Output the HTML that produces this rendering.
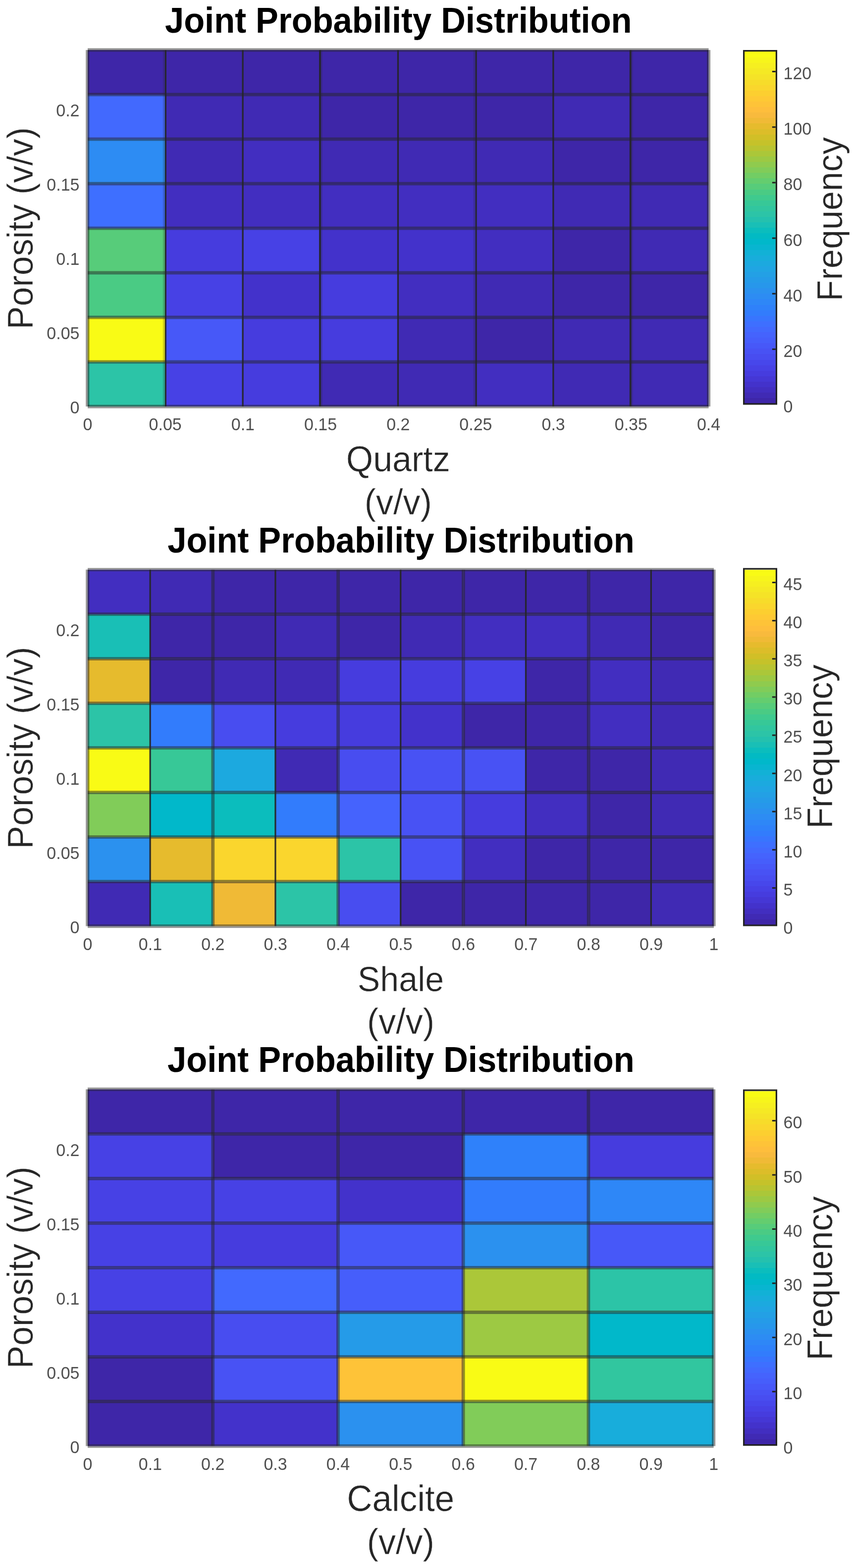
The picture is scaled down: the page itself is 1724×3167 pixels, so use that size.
<!DOCTYPE html>
<html><head><meta charset="utf-8"><title>Joint Probability Distribution</title>
<style>html,body{margin:0;padding:0;background:#fff;}svg{display:block;}</style></head>
<body>
<svg width="1724" height="3167" viewBox="0 0 1724 3167">
<rect width="1724" height="3167" fill="#fff"/>
<rect x="177.00" y="731.00" width="156.99" height="90.30" fill="#2cc4a7"/>
<rect x="333.69" y="731.00" width="156.99" height="90.30" fill="#4741e5"/>
<rect x="490.38" y="731.00" width="156.99" height="90.30" fill="#463cde"/>
<rect x="647.06" y="731.00" width="156.99" height="90.30" fill="#402ab4"/>
<rect x="803.75" y="731.00" width="156.99" height="90.30" fill="#402ab4"/>
<rect x="960.44" y="731.00" width="156.99" height="90.30" fill="#422ec0"/>
<rect x="1117.12" y="731.00" width="156.99" height="90.30" fill="#402ab4"/>
<rect x="1273.81" y="731.00" width="156.99" height="90.30" fill="#402ab4"/>
<rect x="177.00" y="641.00" width="156.99" height="90.30" fill="#f9fb15"/>
<rect x="333.69" y="641.00" width="156.99" height="90.30" fill="#4758f8"/>
<rect x="490.38" y="641.00" width="156.99" height="90.30" fill="#463cde"/>
<rect x="647.06" y="641.00" width="156.99" height="90.30" fill="#463cde"/>
<rect x="803.75" y="641.00" width="156.99" height="90.30" fill="#402ab4"/>
<rect x="960.44" y="641.00" width="156.99" height="90.30" fill="#3e26a8"/>
<rect x="1117.12" y="641.00" width="156.99" height="90.30" fill="#402ab4"/>
<rect x="1273.81" y="641.00" width="156.99" height="90.30" fill="#402ab4"/>
<rect x="177.00" y="551.00" width="156.99" height="90.30" fill="#4acb84"/>
<rect x="333.69" y="551.00" width="156.99" height="90.30" fill="#4741e5"/>
<rect x="490.38" y="551.00" width="156.99" height="90.30" fill="#4332cb"/>
<rect x="647.06" y="551.00" width="156.99" height="90.30" fill="#463cde"/>
<rect x="803.75" y="551.00" width="156.99" height="90.30" fill="#422ec0"/>
<rect x="960.44" y="551.00" width="156.99" height="90.30" fill="#402ab4"/>
<rect x="1117.12" y="551.00" width="156.99" height="90.30" fill="#3e26a8"/>
<rect x="1273.81" y="551.00" width="156.99" height="90.30" fill="#3e26a8"/>
<rect x="177.00" y="461.00" width="156.99" height="90.30" fill="#57cc7a"/>
<rect x="333.69" y="461.00" width="156.99" height="90.30" fill="#463cde"/>
<rect x="490.38" y="461.00" width="156.99" height="90.30" fill="#4741e5"/>
<rect x="647.06" y="461.00" width="156.99" height="90.30" fill="#4332cb"/>
<rect x="803.75" y="461.00" width="156.99" height="90.30" fill="#4332cb"/>
<rect x="960.44" y="461.00" width="156.99" height="90.30" fill="#422ec0"/>
<rect x="1117.12" y="461.00" width="156.99" height="90.30" fill="#3e26a8"/>
<rect x="1273.81" y="461.00" width="156.99" height="90.30" fill="#402ab4"/>
<rect x="177.00" y="371.00" width="156.99" height="90.30" fill="#3e6fff"/>
<rect x="333.69" y="371.00" width="156.99" height="90.30" fill="#422ec0"/>
<rect x="490.38" y="371.00" width="156.99" height="90.30" fill="#422ec0"/>
<rect x="647.06" y="371.00" width="156.99" height="90.30" fill="#422ec0"/>
<rect x="803.75" y="371.00" width="156.99" height="90.30" fill="#422ec0"/>
<rect x="960.44" y="371.00" width="156.99" height="90.30" fill="#422ec0"/>
<rect x="1117.12" y="371.00" width="156.99" height="90.30" fill="#402ab4"/>
<rect x="1273.81" y="371.00" width="156.99" height="90.30" fill="#402ab4"/>
<rect x="177.00" y="281.00" width="156.99" height="90.30" fill="#2d8cf3"/>
<rect x="333.69" y="281.00" width="156.99" height="90.30" fill="#402ab4"/>
<rect x="490.38" y="281.00" width="156.99" height="90.30" fill="#422ec0"/>
<rect x="647.06" y="281.00" width="156.99" height="90.30" fill="#402ab4"/>
<rect x="803.75" y="281.00" width="156.99" height="90.30" fill="#402ab4"/>
<rect x="960.44" y="281.00" width="156.99" height="90.30" fill="#402ab4"/>
<rect x="1117.12" y="281.00" width="156.99" height="90.30" fill="#3e26a8"/>
<rect x="1273.81" y="281.00" width="156.99" height="90.30" fill="#3e26a8"/>
<rect x="177.00" y="191.00" width="156.99" height="90.30" fill="#4269fe"/>
<rect x="333.69" y="191.00" width="156.99" height="90.30" fill="#402ab4"/>
<rect x="490.38" y="191.00" width="156.99" height="90.30" fill="#402ab4"/>
<rect x="647.06" y="191.00" width="156.99" height="90.30" fill="#3e26a8"/>
<rect x="803.75" y="191.00" width="156.99" height="90.30" fill="#3e26a8"/>
<rect x="960.44" y="191.00" width="156.99" height="90.30" fill="#3e26a8"/>
<rect x="1117.12" y="191.00" width="156.99" height="90.30" fill="#402ab4"/>
<rect x="1273.81" y="191.00" width="156.99" height="90.30" fill="#3e26a8"/>
<rect x="177.00" y="101.00" width="156.99" height="90.30" fill="#3e26a8"/>
<rect x="333.69" y="101.00" width="156.99" height="90.30" fill="#3e26a8"/>
<rect x="490.38" y="101.00" width="156.99" height="90.30" fill="#3e26a8"/>
<rect x="647.06" y="101.00" width="156.99" height="90.30" fill="#3e26a8"/>
<rect x="803.75" y="101.00" width="156.99" height="90.30" fill="#3e26a8"/>
<rect x="960.44" y="101.00" width="156.99" height="90.30" fill="#3e26a8"/>
<rect x="1117.12" y="101.00" width="156.99" height="90.30" fill="#3e26a8"/>
<rect x="1273.81" y="101.00" width="156.99" height="90.30" fill="#3e26a8"/>
<rect x="177.00" y="817.60" width="1253.50" height="3.40" fill="rgba(38,38,38,0.5)"/>
<rect x="177.00" y="727.60" width="1253.50" height="6.80" fill="rgba(38,38,38,0.5)"/>
<rect x="177.00" y="637.60" width="1253.50" height="6.80" fill="rgba(38,38,38,0.5)"/>
<rect x="177.00" y="547.60" width="1253.50" height="6.80" fill="rgba(38,38,38,0.5)"/>
<rect x="177.00" y="457.60" width="1253.50" height="6.80" fill="rgba(38,38,38,0.5)"/>
<rect x="177.00" y="367.60" width="1253.50" height="6.80" fill="rgba(38,38,38,0.5)"/>
<rect x="177.00" y="277.60" width="1253.50" height="6.80" fill="rgba(38,38,38,0.5)"/>
<rect x="177.00" y="187.60" width="1253.50" height="6.80" fill="rgba(38,38,38,0.5)"/>
<rect x="177.00" y="101.00" width="1253.50" height="3.40" fill="rgba(38,38,38,0.5)"/>
<rect x="177.00" y="101.00" width="3.4" height="720.00" fill="rgba(38,38,38,0.5)"/>
<rect x="328.79" y="101.00" width="4.0" height="720.00" fill="rgba(38,38,38,0.2)"/>
<rect x="332.79" y="101.00" width="3.2" height="720.00" fill="rgba(38,38,40,0.93)"/>
<rect x="488.48" y="101.00" width="3.3" height="720.00" fill="rgba(38,38,40,0.93)"/>
<rect x="644.06" y="101.00" width="3.9" height="720.00" fill="rgba(38,38,40,0.93)"/>
<rect x="647.96" y="101.00" width="3.0" height="720.00" fill="rgba(38,38,38,0.2)"/>
<rect x="801.85" y="101.00" width="3.3" height="720.00" fill="rgba(38,38,40,0.93)"/>
<rect x="955.54" y="101.00" width="4.0" height="720.00" fill="rgba(38,38,38,0.2)"/>
<rect x="959.54" y="101.00" width="3.2" height="720.00" fill="rgba(38,38,40,0.93)"/>
<rect x="1115.22" y="101.00" width="3.3" height="720.00" fill="rgba(38,38,40,0.93)"/>
<rect x="1270.81" y="101.00" width="3.9" height="720.00" fill="rgba(38,38,40,0.93)"/>
<rect x="1274.71" y="101.00" width="3.0" height="720.00" fill="rgba(38,38,38,0.2)"/>
<rect x="1427.10" y="101.00" width="3.4" height="720.00" fill="rgba(38,38,38,0.5)"/>
<rect x="177.00" y="97.40" width="1253.50" height="3.60" fill="#949494"/>
<rect x="173.20" y="101.00" width="3.8" height="720.00" fill="#949494"/>
<rect x="1430.50" y="101.00" width="3.6" height="720.00" fill="#949494"/>
<rect x="177.00" y="821.00" width="1253.50" height="3.6" fill="#949494"/>
<text transform="translate(804.25 65.90) scale(1 1.04)" font-family="'Liberation Sans', Arial, Helvetica, sans-serif" font-size="68.7" font-weight="bold" text-anchor="middle" fill="#000">Joint Probability Distribution</text>
<text transform="translate(177.00 869.30) scale(1 1.04)" font-family="'Liberation Sans', Arial, Helvetica, sans-serif" font-size="34" text-anchor="middle" fill="#505050">0</text>
<text transform="translate(333.69 869.30) scale(1 1.04)" font-family="'Liberation Sans', Arial, Helvetica, sans-serif" font-size="34" text-anchor="middle" fill="#505050">0.05</text>
<text transform="translate(490.38 869.30) scale(1 1.04)" font-family="'Liberation Sans', Arial, Helvetica, sans-serif" font-size="34" text-anchor="middle" fill="#505050">0.1</text>
<text transform="translate(647.06 869.30) scale(1 1.04)" font-family="'Liberation Sans', Arial, Helvetica, sans-serif" font-size="34" text-anchor="middle" fill="#505050">0.15</text>
<text transform="translate(803.75 869.30) scale(1 1.04)" font-family="'Liberation Sans', Arial, Helvetica, sans-serif" font-size="34" text-anchor="middle" fill="#505050">0.2</text>
<text transform="translate(960.44 869.30) scale(1 1.04)" font-family="'Liberation Sans', Arial, Helvetica, sans-serif" font-size="34" text-anchor="middle" fill="#505050">0.25</text>
<text transform="translate(1117.12 869.30) scale(1 1.04)" font-family="'Liberation Sans', Arial, Helvetica, sans-serif" font-size="34" text-anchor="middle" fill="#505050">0.3</text>
<text transform="translate(1273.81 869.30) scale(1 1.04)" font-family="'Liberation Sans', Arial, Helvetica, sans-serif" font-size="34" text-anchor="middle" fill="#505050">0.35</text>
<text transform="translate(1430.50 869.30) scale(1 1.04)" font-family="'Liberation Sans', Arial, Helvetica, sans-serif" font-size="34" text-anchor="middle" fill="#505050">0.4</text>
<text transform="translate(160.50 835.30) scale(1 1.04)" font-family="'Liberation Sans', Arial, Helvetica, sans-serif" font-size="34" text-anchor="end" fill="#505050">0</text>
<text transform="translate(160.50 685.30) scale(1 1.04)" font-family="'Liberation Sans', Arial, Helvetica, sans-serif" font-size="34" text-anchor="end" fill="#505050">0.05</text>
<text transform="translate(160.50 535.30) scale(1 1.04)" font-family="'Liberation Sans', Arial, Helvetica, sans-serif" font-size="34" text-anchor="end" fill="#505050">0.1</text>
<text transform="translate(160.50 385.30) scale(1 1.04)" font-family="'Liberation Sans', Arial, Helvetica, sans-serif" font-size="34" text-anchor="end" fill="#505050">0.15</text>
<text transform="translate(160.50 235.30) scale(1 1.04)" font-family="'Liberation Sans', Arial, Helvetica, sans-serif" font-size="34" text-anchor="end" fill="#505050">0.2</text>
<text transform="translate(803.75 952.40) scale(1 1.035)" font-family="'Liberation Sans', Arial, Helvetica, sans-serif" font-size="70" text-anchor="middle" fill="#262626" stroke="#fff" stroke-width="0.5">Quartz</text>
<text transform="translate(803.75 1038.80) scale(1 1.035)" font-family="'Liberation Sans', Arial, Helvetica, sans-serif" font-size="70" text-anchor="middle" fill="#262626" stroke="#fff" stroke-width="0.5">(v/v)</text>
<text transform="translate(65.80 461.00) rotate(-90) scale(1 1.035)" font-family="'Liberation Sans', Arial, Helvetica, sans-serif" font-size="70" text-anchor="middle" fill="#262626" stroke="#fff" stroke-width="0.5">Porosity (v/v)</text>
<rect x="1503.20" y="803.20" width="62.60" height="12.10" fill="#3e26a8" shape-rendering="crispEdges"/>
<rect x="1503.20" y="792.11" width="62.60" height="12.10" fill="#402ab4" shape-rendering="crispEdges"/>
<rect x="1503.20" y="781.01" width="62.60" height="12.10" fill="#422ec0" shape-rendering="crispEdges"/>
<rect x="1503.20" y="769.92" width="62.60" height="12.10" fill="#4332cb" shape-rendering="crispEdges"/>
<rect x="1503.20" y="758.82" width="62.60" height="12.10" fill="#4537d5" shape-rendering="crispEdges"/>
<rect x="1503.20" y="747.73" width="62.60" height="12.10" fill="#463cde" shape-rendering="crispEdges"/>
<rect x="1503.20" y="736.63" width="62.60" height="12.10" fill="#4741e5" shape-rendering="crispEdges"/>
<rect x="1503.20" y="725.54" width="62.60" height="12.10" fill="#4747eb" shape-rendering="crispEdges"/>
<rect x="1503.20" y="714.44" width="62.60" height="12.10" fill="#484df0" shape-rendering="crispEdges"/>
<rect x="1503.20" y="703.35" width="62.60" height="12.10" fill="#4852f4" shape-rendering="crispEdges"/>
<rect x="1503.20" y="692.25" width="62.60" height="12.10" fill="#4758f8" shape-rendering="crispEdges"/>
<rect x="1503.20" y="681.16" width="62.60" height="12.10" fill="#465efb" shape-rendering="crispEdges"/>
<rect x="1503.20" y="670.06" width="62.60" height="12.10" fill="#4563fd" shape-rendering="crispEdges"/>
<rect x="1503.20" y="658.97" width="62.60" height="12.10" fill="#4269fe" shape-rendering="crispEdges"/>
<rect x="1503.20" y="647.87" width="62.60" height="12.10" fill="#3e6fff" shape-rendering="crispEdges"/>
<rect x="1503.20" y="636.77" width="62.60" height="12.10" fill="#3875fe" shape-rendering="crispEdges"/>
<rect x="1503.20" y="625.68" width="62.60" height="12.10" fill="#327cfc" shape-rendering="crispEdges"/>
<rect x="1503.20" y="614.58" width="62.60" height="12.10" fill="#2f81fa" shape-rendering="crispEdges"/>
<rect x="1503.20" y="603.49" width="62.60" height="12.10" fill="#2e87f7" shape-rendering="crispEdges"/>
<rect x="1503.20" y="592.39" width="62.60" height="12.10" fill="#2d8cf3" shape-rendering="crispEdges"/>
<rect x="1503.20" y="581.30" width="62.60" height="12.10" fill="#2b91ef" shape-rendering="crispEdges"/>
<rect x="1503.20" y="570.20" width="62.60" height="12.10" fill="#2797eb" shape-rendering="crispEdges"/>
<rect x="1503.20" y="559.11" width="62.60" height="12.10" fill="#259be8" shape-rendering="crispEdges"/>
<rect x="1503.20" y="548.01" width="62.60" height="12.10" fill="#23a0e5" shape-rendering="crispEdges"/>
<rect x="1503.20" y="536.92" width="62.60" height="12.10" fill="#20a5e3" shape-rendering="crispEdges"/>
<rect x="1503.20" y="525.82" width="62.60" height="12.10" fill="#1ca9df" shape-rendering="crispEdges"/>
<rect x="1503.20" y="514.73" width="62.60" height="12.10" fill="#18addb" shape-rendering="crispEdges"/>
<rect x="1503.20" y="503.63" width="62.60" height="12.10" fill="#12b1d6" shape-rendering="crispEdges"/>
<rect x="1503.20" y="492.54" width="62.60" height="12.10" fill="#08b5d0" shape-rendering="crispEdges"/>
<rect x="1503.20" y="481.44" width="62.60" height="12.10" fill="#01b8ca" shape-rendering="crispEdges"/>
<rect x="1503.20" y="470.35" width="62.60" height="12.10" fill="#02bac3" shape-rendering="crispEdges"/>
<rect x="1503.20" y="459.25" width="62.60" height="12.10" fill="#0bbdbd" shape-rendering="crispEdges"/>
<rect x="1503.20" y="448.15" width="62.60" height="12.10" fill="#19bfb6" shape-rendering="crispEdges"/>
<rect x="1503.20" y="437.06" width="62.60" height="12.10" fill="#24c1ae" shape-rendering="crispEdges"/>
<rect x="1503.20" y="425.96" width="62.60" height="12.10" fill="#2cc4a7" shape-rendering="crispEdges"/>
<rect x="1503.20" y="414.87" width="62.60" height="12.10" fill="#31c69f" shape-rendering="crispEdges"/>
<rect x="1503.20" y="403.77" width="62.60" height="12.10" fill="#37c897" shape-rendering="crispEdges"/>
<rect x="1503.20" y="392.68" width="62.60" height="12.10" fill="#3fca8e" shape-rendering="crispEdges"/>
<rect x="1503.20" y="381.58" width="62.60" height="12.10" fill="#4acb84" shape-rendering="crispEdges"/>
<rect x="1503.20" y="370.49" width="62.60" height="12.10" fill="#57cc7a" shape-rendering="crispEdges"/>
<rect x="1503.20" y="359.39" width="62.60" height="12.10" fill="#64cd6f" shape-rendering="crispEdges"/>
<rect x="1503.20" y="348.30" width="62.60" height="12.10" fill="#72cd64" shape-rendering="crispEdges"/>
<rect x="1503.20" y="337.20" width="62.60" height="12.10" fill="#81cc59" shape-rendering="crispEdges"/>
<rect x="1503.20" y="326.11" width="62.60" height="12.10" fill="#8fcb4e" shape-rendering="crispEdges"/>
<rect x="1503.20" y="315.01" width="62.60" height="12.10" fill="#9dc943" shape-rendering="crispEdges"/>
<rect x="1503.20" y="303.92" width="62.60" height="12.10" fill="#abc739" shape-rendering="crispEdges"/>
<rect x="1503.20" y="292.82" width="62.60" height="12.10" fill="#b9c431" shape-rendering="crispEdges"/>
<rect x="1503.20" y="281.73" width="62.60" height="12.10" fill="#c5c22a" shape-rendering="crispEdges"/>
<rect x="1503.20" y="270.63" width="62.60" height="12.10" fill="#d1bf27" shape-rendering="crispEdges"/>
<rect x="1503.20" y="259.53" width="62.60" height="12.10" fill="#dcbd29" shape-rendering="crispEdges"/>
<rect x="1503.20" y="248.44" width="62.60" height="12.10" fill="#e6bb2d" shape-rendering="crispEdges"/>
<rect x="1503.20" y="237.34" width="62.60" height="12.10" fill="#f0ba36" shape-rendering="crispEdges"/>
<rect x="1503.20" y="226.25" width="62.60" height="12.10" fill="#f8ba3d" shape-rendering="crispEdges"/>
<rect x="1503.20" y="215.15" width="62.60" height="12.10" fill="#febe3c" shape-rendering="crispEdges"/>
<rect x="1503.20" y="204.06" width="62.60" height="12.10" fill="#fec338" shape-rendering="crispEdges"/>
<rect x="1503.20" y="192.96" width="62.60" height="12.10" fill="#fec934" shape-rendering="crispEdges"/>
<rect x="1503.20" y="181.87" width="62.60" height="12.10" fill="#fccf30" shape-rendering="crispEdges"/>
<rect x="1503.20" y="170.77" width="62.60" height="12.10" fill="#fad62d" shape-rendering="crispEdges"/>
<rect x="1503.20" y="159.68" width="62.60" height="12.10" fill="#f7dc2a" shape-rendering="crispEdges"/>
<rect x="1503.20" y="148.58" width="62.60" height="12.10" fill="#f5e327" shape-rendering="crispEdges"/>
<rect x="1503.20" y="137.49" width="62.60" height="12.10" fill="#f5e924" shape-rendering="crispEdges"/>
<rect x="1503.20" y="126.39" width="62.60" height="12.10" fill="#f6ef20" shape-rendering="crispEdges"/>
<rect x="1503.20" y="115.30" width="62.60" height="12.10" fill="#f7f51b" shape-rendering="crispEdges"/>
<rect x="1503.20" y="104.20" width="62.60" height="12.10" fill="#f9fb15" shape-rendering="crispEdges"/>
<rect x="1501.60" y="102.60" width="65.80" height="713.30" fill="none" stroke="#222" stroke-width="3.2"/>
<text transform="translate(1581.50 833.00) scale(1 1.04)" font-family="'Liberation Sans', Arial, Helvetica, sans-serif" font-size="34" fill="#505050">0</text>
<rect x="1558.80" y="703.84" width="7" height="3" fill="#222"/>
<text transform="translate(1581.50 720.84) scale(1 1.04)" font-family="'Liberation Sans', Arial, Helvetica, sans-serif" font-size="34" fill="#505050">20</text>
<rect x="1558.80" y="591.68" width="7" height="3" fill="#222"/>
<text transform="translate(1581.50 608.68) scale(1 1.04)" font-family="'Liberation Sans', Arial, Helvetica, sans-serif" font-size="34" fill="#505050">40</text>
<rect x="1558.80" y="479.52" width="7" height="3" fill="#222"/>
<text transform="translate(1581.50 496.52) scale(1 1.04)" font-family="'Liberation Sans', Arial, Helvetica, sans-serif" font-size="34" fill="#505050">60</text>
<rect x="1558.80" y="367.36" width="7" height="3" fill="#222"/>
<text transform="translate(1581.50 384.36) scale(1 1.04)" font-family="'Liberation Sans', Arial, Helvetica, sans-serif" font-size="34" fill="#505050">80</text>
<rect x="1558.80" y="255.20" width="7" height="3" fill="#222"/>
<text transform="translate(1581.50 272.20) scale(1 1.04)" font-family="'Liberation Sans', Arial, Helvetica, sans-serif" font-size="34" fill="#505050">100</text>
<rect x="1558.80" y="143.04" width="7" height="3" fill="#222"/>
<text transform="translate(1581.50 160.04) scale(1 1.04)" font-family="'Liberation Sans', Arial, Helvetica, sans-serif" font-size="34" fill="#505050">120</text>
<text transform="translate(1700.40 442.60) rotate(-90) scale(1 1.035)" font-family="'Liberation Sans', Arial, Helvetica, sans-serif" font-size="70.2" text-anchor="middle" fill="#262626" stroke="#fff" stroke-width="0.5">Frequency</text>
<rect x="177.00" y="1780.59" width="126.70" height="90.31" fill="#402ab4"/>
<rect x="303.40" y="1780.59" width="126.70" height="90.31" fill="#19bfb6"/>
<rect x="429.80" y="1780.59" width="126.70" height="90.31" fill="#f0ba36"/>
<rect x="556.20" y="1780.59" width="126.70" height="90.31" fill="#2cc4a7"/>
<rect x="682.60" y="1780.59" width="126.70" height="90.31" fill="#484df0"/>
<rect x="809.00" y="1780.59" width="126.70" height="90.31" fill="#3e26a8"/>
<rect x="935.40" y="1780.59" width="126.70" height="90.31" fill="#3e26a8"/>
<rect x="1061.80" y="1780.59" width="126.70" height="90.31" fill="#3e26a8"/>
<rect x="1188.20" y="1780.59" width="126.70" height="90.31" fill="#3e26a8"/>
<rect x="1314.60" y="1780.59" width="126.70" height="90.31" fill="#402ab4"/>
<rect x="177.00" y="1690.57" width="126.70" height="90.31" fill="#2b91ef"/>
<rect x="303.40" y="1690.57" width="126.70" height="90.31" fill="#e6bb2d"/>
<rect x="429.80" y="1690.57" width="126.70" height="90.31" fill="#fad62d"/>
<rect x="556.20" y="1690.57" width="126.70" height="90.31" fill="#fad62d"/>
<rect x="682.60" y="1690.57" width="126.70" height="90.31" fill="#2cc4a7"/>
<rect x="809.00" y="1690.57" width="126.70" height="90.31" fill="#4852f4"/>
<rect x="935.40" y="1690.57" width="126.70" height="90.31" fill="#422ec0"/>
<rect x="1061.80" y="1690.57" width="126.70" height="90.31" fill="#3e26a8"/>
<rect x="1188.20" y="1690.57" width="126.70" height="90.31" fill="#3e26a8"/>
<rect x="1314.60" y="1690.57" width="126.70" height="90.31" fill="#3e26a8"/>
<rect x="177.00" y="1600.56" width="126.70" height="90.31" fill="#81cc59"/>
<rect x="303.40" y="1600.56" width="126.70" height="90.31" fill="#01b8ca"/>
<rect x="429.80" y="1600.56" width="126.70" height="90.31" fill="#0bbdbd"/>
<rect x="556.20" y="1600.56" width="126.70" height="90.31" fill="#327cfc"/>
<rect x="682.60" y="1600.56" width="126.70" height="90.31" fill="#4563fd"/>
<rect x="809.00" y="1600.56" width="126.70" height="90.31" fill="#4852f4"/>
<rect x="935.40" y="1600.56" width="126.70" height="90.31" fill="#463cde"/>
<rect x="1061.80" y="1600.56" width="126.70" height="90.31" fill="#422ec0"/>
<rect x="1188.20" y="1600.56" width="126.70" height="90.31" fill="#3e26a8"/>
<rect x="1314.60" y="1600.56" width="126.70" height="90.31" fill="#402ab4"/>
<rect x="177.00" y="1510.55" width="126.70" height="90.31" fill="#f9fb15"/>
<rect x="303.40" y="1510.55" width="126.70" height="90.31" fill="#37c897"/>
<rect x="429.80" y="1510.55" width="126.70" height="90.31" fill="#1ca9df"/>
<rect x="556.20" y="1510.55" width="126.70" height="90.31" fill="#402ab4"/>
<rect x="682.60" y="1510.55" width="126.70" height="90.31" fill="#484df0"/>
<rect x="809.00" y="1510.55" width="126.70" height="90.31" fill="#4852f4"/>
<rect x="935.40" y="1510.55" width="126.70" height="90.31" fill="#4852f4"/>
<rect x="1061.80" y="1510.55" width="126.70" height="90.31" fill="#3e26a8"/>
<rect x="1188.20" y="1510.55" width="126.70" height="90.31" fill="#3e26a8"/>
<rect x="1314.60" y="1510.55" width="126.70" height="90.31" fill="#402ab4"/>
<rect x="177.00" y="1420.54" width="126.70" height="90.31" fill="#2cc4a7"/>
<rect x="303.40" y="1420.54" width="126.70" height="90.31" fill="#327cfc"/>
<rect x="429.80" y="1420.54" width="126.70" height="90.31" fill="#484df0"/>
<rect x="556.20" y="1420.54" width="126.70" height="90.31" fill="#463cde"/>
<rect x="682.60" y="1420.54" width="126.70" height="90.31" fill="#463cde"/>
<rect x="809.00" y="1420.54" width="126.70" height="90.31" fill="#4332cb"/>
<rect x="935.40" y="1420.54" width="126.70" height="90.31" fill="#3e26a8"/>
<rect x="1061.80" y="1420.54" width="126.70" height="90.31" fill="#3e26a8"/>
<rect x="1188.20" y="1420.54" width="126.70" height="90.31" fill="#422ec0"/>
<rect x="1314.60" y="1420.54" width="126.70" height="90.31" fill="#402ab4"/>
<rect x="177.00" y="1330.53" width="126.70" height="90.31" fill="#e6bb2d"/>
<rect x="303.40" y="1330.53" width="126.70" height="90.31" fill="#3e26a8"/>
<rect x="429.80" y="1330.53" width="126.70" height="90.31" fill="#402ab4"/>
<rect x="556.20" y="1330.53" width="126.70" height="90.31" fill="#402ab4"/>
<rect x="682.60" y="1330.53" width="126.70" height="90.31" fill="#463cde"/>
<rect x="809.00" y="1330.53" width="126.70" height="90.31" fill="#463cde"/>
<rect x="935.40" y="1330.53" width="126.70" height="90.31" fill="#4741e5"/>
<rect x="1061.80" y="1330.53" width="126.70" height="90.31" fill="#3e26a8"/>
<rect x="1188.20" y="1330.53" width="126.70" height="90.31" fill="#422ec0"/>
<rect x="1314.60" y="1330.53" width="126.70" height="90.31" fill="#402ab4"/>
<rect x="177.00" y="1240.51" width="126.70" height="90.31" fill="#19bfb6"/>
<rect x="303.40" y="1240.51" width="126.70" height="90.31" fill="#3e26a8"/>
<rect x="429.80" y="1240.51" width="126.70" height="90.31" fill="#3e26a8"/>
<rect x="556.20" y="1240.51" width="126.70" height="90.31" fill="#402ab4"/>
<rect x="682.60" y="1240.51" width="126.70" height="90.31" fill="#3e26a8"/>
<rect x="809.00" y="1240.51" width="126.70" height="90.31" fill="#402ab4"/>
<rect x="935.40" y="1240.51" width="126.70" height="90.31" fill="#422ec0"/>
<rect x="1061.80" y="1240.51" width="126.70" height="90.31" fill="#422ec0"/>
<rect x="1188.20" y="1240.51" width="126.70" height="90.31" fill="#402ab4"/>
<rect x="1314.60" y="1240.51" width="126.70" height="90.31" fill="#3e26a8"/>
<rect x="177.00" y="1150.50" width="126.70" height="90.31" fill="#422ec0"/>
<rect x="303.40" y="1150.50" width="126.70" height="90.31" fill="#402ab4"/>
<rect x="429.80" y="1150.50" width="126.70" height="90.31" fill="#3e26a8"/>
<rect x="556.20" y="1150.50" width="126.70" height="90.31" fill="#3e26a8"/>
<rect x="682.60" y="1150.50" width="126.70" height="90.31" fill="#3e26a8"/>
<rect x="809.00" y="1150.50" width="126.70" height="90.31" fill="#3e26a8"/>
<rect x="935.40" y="1150.50" width="126.70" height="90.31" fill="#3e26a8"/>
<rect x="1061.80" y="1150.50" width="126.70" height="90.31" fill="#3e26a8"/>
<rect x="1188.20" y="1150.50" width="126.70" height="90.31" fill="#3e26a8"/>
<rect x="1314.60" y="1150.50" width="126.70" height="90.31" fill="#3e26a8"/>
<rect x="177.00" y="1867.20" width="1264.00" height="3.40" fill="rgba(38,38,38,0.5)"/>
<rect x="177.00" y="1777.19" width="1264.00" height="6.80" fill="rgba(38,38,38,0.5)"/>
<rect x="177.00" y="1687.17" width="1264.00" height="6.80" fill="rgba(38,38,38,0.5)"/>
<rect x="177.00" y="1597.16" width="1264.00" height="6.80" fill="rgba(38,38,38,0.5)"/>
<rect x="177.00" y="1507.15" width="1264.00" height="6.80" fill="rgba(38,38,38,0.5)"/>
<rect x="177.00" y="1417.14" width="1264.00" height="6.80" fill="rgba(38,38,38,0.5)"/>
<rect x="177.00" y="1327.12" width="1264.00" height="6.80" fill="rgba(38,38,38,0.5)"/>
<rect x="177.00" y="1237.11" width="1264.00" height="6.80" fill="rgba(38,38,38,0.5)"/>
<rect x="177.00" y="1150.50" width="1264.00" height="3.40" fill="rgba(38,38,38,0.5)"/>
<rect x="177.00" y="1150.50" width="3.4" height="720.10" fill="rgba(38,38,38,0.5)"/>
<rect x="301.50" y="1150.50" width="3.3" height="720.10" fill="rgba(38,38,40,0.93)"/>
<rect x="426.40" y="1150.50" width="6.8" height="720.10" fill="rgba(38,38,38,0.5)"/>
<rect x="554.30" y="1150.50" width="3.3" height="720.10" fill="rgba(38,38,40,0.93)"/>
<rect x="679.20" y="1150.50" width="6.8" height="720.10" fill="rgba(38,38,38,0.5)"/>
<rect x="807.10" y="1150.50" width="3.3" height="720.10" fill="rgba(38,38,40,0.93)"/>
<rect x="932.00" y="1150.50" width="6.8" height="720.10" fill="rgba(38,38,38,0.5)"/>
<rect x="1059.90" y="1150.50" width="3.3" height="720.10" fill="rgba(38,38,40,0.93)"/>
<rect x="1184.80" y="1150.50" width="6.8" height="720.10" fill="rgba(38,38,38,0.5)"/>
<rect x="1312.70" y="1150.50" width="3.3" height="720.10" fill="rgba(38,38,40,0.93)"/>
<rect x="1437.60" y="1150.50" width="3.4" height="720.10" fill="rgba(38,38,38,0.5)"/>
<rect x="177.00" y="1147.20" width="1264.00" height="3.30" fill="#949494"/>
<rect x="173.20" y="1150.50" width="3.8" height="720.10" fill="#949494"/>
<rect x="1441.00" y="1150.50" width="3.6" height="720.10" fill="#949494"/>
<rect x="177.00" y="1870.60" width="1264.00" height="3.6" fill="#949494"/>
<text transform="translate(809.50 1115.60) scale(1 1.04)" font-family="'Liberation Sans', Arial, Helvetica, sans-serif" font-size="68.7" font-weight="bold" text-anchor="middle" fill="#000">Joint Probability Distribution</text>
<text transform="translate(177.00 1918.90) scale(1 1.04)" font-family="'Liberation Sans', Arial, Helvetica, sans-serif" font-size="34" text-anchor="middle" fill="#505050">0</text>
<text transform="translate(303.40 1918.90) scale(1 1.04)" font-family="'Liberation Sans', Arial, Helvetica, sans-serif" font-size="34" text-anchor="middle" fill="#505050">0.1</text>
<text transform="translate(429.80 1918.90) scale(1 1.04)" font-family="'Liberation Sans', Arial, Helvetica, sans-serif" font-size="34" text-anchor="middle" fill="#505050">0.2</text>
<text transform="translate(556.20 1918.90) scale(1 1.04)" font-family="'Liberation Sans', Arial, Helvetica, sans-serif" font-size="34" text-anchor="middle" fill="#505050">0.3</text>
<text transform="translate(682.60 1918.90) scale(1 1.04)" font-family="'Liberation Sans', Arial, Helvetica, sans-serif" font-size="34" text-anchor="middle" fill="#505050">0.4</text>
<text transform="translate(809.00 1918.90) scale(1 1.04)" font-family="'Liberation Sans', Arial, Helvetica, sans-serif" font-size="34" text-anchor="middle" fill="#505050">0.5</text>
<text transform="translate(935.40 1918.90) scale(1 1.04)" font-family="'Liberation Sans', Arial, Helvetica, sans-serif" font-size="34" text-anchor="middle" fill="#505050">0.6</text>
<text transform="translate(1061.80 1918.90) scale(1 1.04)" font-family="'Liberation Sans', Arial, Helvetica, sans-serif" font-size="34" text-anchor="middle" fill="#505050">0.7</text>
<text transform="translate(1188.20 1918.90) scale(1 1.04)" font-family="'Liberation Sans', Arial, Helvetica, sans-serif" font-size="34" text-anchor="middle" fill="#505050">0.8</text>
<text transform="translate(1314.60 1918.90) scale(1 1.04)" font-family="'Liberation Sans', Arial, Helvetica, sans-serif" font-size="34" text-anchor="middle" fill="#505050">0.9</text>
<text transform="translate(1441.00 1918.90) scale(1 1.04)" font-family="'Liberation Sans', Arial, Helvetica, sans-serif" font-size="34" text-anchor="middle" fill="#505050">1</text>
<text transform="translate(160.50 1884.90) scale(1 1.04)" font-family="'Liberation Sans', Arial, Helvetica, sans-serif" font-size="34" text-anchor="end" fill="#505050">0</text>
<text transform="translate(160.50 1734.88) scale(1 1.04)" font-family="'Liberation Sans', Arial, Helvetica, sans-serif" font-size="34" text-anchor="end" fill="#505050">0.05</text>
<text transform="translate(160.50 1584.86) scale(1 1.04)" font-family="'Liberation Sans', Arial, Helvetica, sans-serif" font-size="34" text-anchor="end" fill="#505050">0.1</text>
<text transform="translate(160.50 1434.84) scale(1 1.04)" font-family="'Liberation Sans', Arial, Helvetica, sans-serif" font-size="34" text-anchor="end" fill="#505050">0.15</text>
<text transform="translate(160.50 1284.82) scale(1 1.04)" font-family="'Liberation Sans', Arial, Helvetica, sans-serif" font-size="34" text-anchor="end" fill="#505050">0.2</text>
<text transform="translate(809.00 2002.00) scale(1 1.035)" font-family="'Liberation Sans', Arial, Helvetica, sans-serif" font-size="68.2" text-anchor="middle" fill="#262626" stroke="#fff" stroke-width="0.5">Shale</text>
<text transform="translate(809.00 2088.40) scale(1 1.035)" font-family="'Liberation Sans', Arial, Helvetica, sans-serif" font-size="70" text-anchor="middle" fill="#262626" stroke="#fff" stroke-width="0.5">(v/v)</text>
<text transform="translate(65.80 1510.55) rotate(-90) scale(1 1.035)" font-family="'Liberation Sans', Arial, Helvetica, sans-serif" font-size="70" text-anchor="middle" fill="#262626" stroke="#fff" stroke-width="0.5">Porosity (v/v)</text>
<rect x="1503.20" y="1856.20" width="62.60" height="12.20" fill="#3e26a8" shape-rendering="crispEdges"/>
<rect x="1503.20" y="1845.00" width="62.60" height="12.20" fill="#402ab4" shape-rendering="crispEdges"/>
<rect x="1503.20" y="1833.80" width="62.60" height="12.20" fill="#422ec0" shape-rendering="crispEdges"/>
<rect x="1503.20" y="1822.59" width="62.60" height="12.20" fill="#4332cb" shape-rendering="crispEdges"/>
<rect x="1503.20" y="1811.39" width="62.60" height="12.20" fill="#4537d5" shape-rendering="crispEdges"/>
<rect x="1503.20" y="1800.19" width="62.60" height="12.20" fill="#463cde" shape-rendering="crispEdges"/>
<rect x="1503.20" y="1788.99" width="62.60" height="12.20" fill="#4741e5" shape-rendering="crispEdges"/>
<rect x="1503.20" y="1777.79" width="62.60" height="12.20" fill="#4747eb" shape-rendering="crispEdges"/>
<rect x="1503.20" y="1766.59" width="62.60" height="12.20" fill="#484df0" shape-rendering="crispEdges"/>
<rect x="1503.20" y="1755.38" width="62.60" height="12.20" fill="#4852f4" shape-rendering="crispEdges"/>
<rect x="1503.20" y="1744.18" width="62.60" height="12.20" fill="#4758f8" shape-rendering="crispEdges"/>
<rect x="1503.20" y="1732.98" width="62.60" height="12.20" fill="#465efb" shape-rendering="crispEdges"/>
<rect x="1503.20" y="1721.78" width="62.60" height="12.20" fill="#4563fd" shape-rendering="crispEdges"/>
<rect x="1503.20" y="1710.58" width="62.60" height="12.20" fill="#4269fe" shape-rendering="crispEdges"/>
<rect x="1503.20" y="1699.38" width="62.60" height="12.20" fill="#3e6fff" shape-rendering="crispEdges"/>
<rect x="1503.20" y="1688.17" width="62.60" height="12.20" fill="#3875fe" shape-rendering="crispEdges"/>
<rect x="1503.20" y="1676.97" width="62.60" height="12.20" fill="#327cfc" shape-rendering="crispEdges"/>
<rect x="1503.20" y="1665.77" width="62.60" height="12.20" fill="#2f81fa" shape-rendering="crispEdges"/>
<rect x="1503.20" y="1654.57" width="62.60" height="12.20" fill="#2e87f7" shape-rendering="crispEdges"/>
<rect x="1503.20" y="1643.37" width="62.60" height="12.20" fill="#2d8cf3" shape-rendering="crispEdges"/>
<rect x="1503.20" y="1632.17" width="62.60" height="12.20" fill="#2b91ef" shape-rendering="crispEdges"/>
<rect x="1503.20" y="1620.97" width="62.60" height="12.20" fill="#2797eb" shape-rendering="crispEdges"/>
<rect x="1503.20" y="1609.76" width="62.60" height="12.20" fill="#259be8" shape-rendering="crispEdges"/>
<rect x="1503.20" y="1598.56" width="62.60" height="12.20" fill="#23a0e5" shape-rendering="crispEdges"/>
<rect x="1503.20" y="1587.36" width="62.60" height="12.20" fill="#20a5e3" shape-rendering="crispEdges"/>
<rect x="1503.20" y="1576.16" width="62.60" height="12.20" fill="#1ca9df" shape-rendering="crispEdges"/>
<rect x="1503.20" y="1564.96" width="62.60" height="12.20" fill="#18addb" shape-rendering="crispEdges"/>
<rect x="1503.20" y="1553.76" width="62.60" height="12.20" fill="#12b1d6" shape-rendering="crispEdges"/>
<rect x="1503.20" y="1542.55" width="62.60" height="12.20" fill="#08b5d0" shape-rendering="crispEdges"/>
<rect x="1503.20" y="1531.35" width="62.60" height="12.20" fill="#01b8ca" shape-rendering="crispEdges"/>
<rect x="1503.20" y="1520.15" width="62.60" height="12.20" fill="#02bac3" shape-rendering="crispEdges"/>
<rect x="1503.20" y="1508.95" width="62.60" height="12.20" fill="#0bbdbd" shape-rendering="crispEdges"/>
<rect x="1503.20" y="1497.75" width="62.60" height="12.20" fill="#19bfb6" shape-rendering="crispEdges"/>
<rect x="1503.20" y="1486.55" width="62.60" height="12.20" fill="#24c1ae" shape-rendering="crispEdges"/>
<rect x="1503.20" y="1475.35" width="62.60" height="12.20" fill="#2cc4a7" shape-rendering="crispEdges"/>
<rect x="1503.20" y="1464.14" width="62.60" height="12.20" fill="#31c69f" shape-rendering="crispEdges"/>
<rect x="1503.20" y="1452.94" width="62.60" height="12.20" fill="#37c897" shape-rendering="crispEdges"/>
<rect x="1503.20" y="1441.74" width="62.60" height="12.20" fill="#3fca8e" shape-rendering="crispEdges"/>
<rect x="1503.20" y="1430.54" width="62.60" height="12.20" fill="#4acb84" shape-rendering="crispEdges"/>
<rect x="1503.20" y="1419.34" width="62.60" height="12.20" fill="#57cc7a" shape-rendering="crispEdges"/>
<rect x="1503.20" y="1408.14" width="62.60" height="12.20" fill="#64cd6f" shape-rendering="crispEdges"/>
<rect x="1503.20" y="1396.93" width="62.60" height="12.20" fill="#72cd64" shape-rendering="crispEdges"/>
<rect x="1503.20" y="1385.73" width="62.60" height="12.20" fill="#81cc59" shape-rendering="crispEdges"/>
<rect x="1503.20" y="1374.53" width="62.60" height="12.20" fill="#8fcb4e" shape-rendering="crispEdges"/>
<rect x="1503.20" y="1363.33" width="62.60" height="12.20" fill="#9dc943" shape-rendering="crispEdges"/>
<rect x="1503.20" y="1352.13" width="62.60" height="12.20" fill="#abc739" shape-rendering="crispEdges"/>
<rect x="1503.20" y="1340.93" width="62.60" height="12.20" fill="#b9c431" shape-rendering="crispEdges"/>
<rect x="1503.20" y="1329.72" width="62.60" height="12.20" fill="#c5c22a" shape-rendering="crispEdges"/>
<rect x="1503.20" y="1318.52" width="62.60" height="12.20" fill="#d1bf27" shape-rendering="crispEdges"/>
<rect x="1503.20" y="1307.32" width="62.60" height="12.20" fill="#dcbd29" shape-rendering="crispEdges"/>
<rect x="1503.20" y="1296.12" width="62.60" height="12.20" fill="#e6bb2d" shape-rendering="crispEdges"/>
<rect x="1503.20" y="1284.92" width="62.60" height="12.20" fill="#f0ba36" shape-rendering="crispEdges"/>
<rect x="1503.20" y="1273.72" width="62.60" height="12.20" fill="#f8ba3d" shape-rendering="crispEdges"/>
<rect x="1503.20" y="1262.52" width="62.60" height="12.20" fill="#febe3c" shape-rendering="crispEdges"/>
<rect x="1503.20" y="1251.31" width="62.60" height="12.20" fill="#fec338" shape-rendering="crispEdges"/>
<rect x="1503.20" y="1240.11" width="62.60" height="12.20" fill="#fec934" shape-rendering="crispEdges"/>
<rect x="1503.20" y="1228.91" width="62.60" height="12.20" fill="#fccf30" shape-rendering="crispEdges"/>
<rect x="1503.20" y="1217.71" width="62.60" height="12.20" fill="#fad62d" shape-rendering="crispEdges"/>
<rect x="1503.20" y="1206.51" width="62.60" height="12.20" fill="#f7dc2a" shape-rendering="crispEdges"/>
<rect x="1503.20" y="1195.31" width="62.60" height="12.20" fill="#f5e327" shape-rendering="crispEdges"/>
<rect x="1503.20" y="1184.10" width="62.60" height="12.20" fill="#f5e924" shape-rendering="crispEdges"/>
<rect x="1503.20" y="1172.90" width="62.60" height="12.20" fill="#f6ef20" shape-rendering="crispEdges"/>
<rect x="1503.20" y="1161.70" width="62.60" height="12.20" fill="#f7f51b" shape-rendering="crispEdges"/>
<rect x="1503.20" y="1150.50" width="62.60" height="12.20" fill="#f9fb15" shape-rendering="crispEdges"/>
<rect x="1501.60" y="1148.90" width="65.80" height="720.10" fill="none" stroke="#222" stroke-width="3.2"/>
<text transform="translate(1581.50 1886.10) scale(1 1.04)" font-family="'Liberation Sans', Arial, Helvetica, sans-serif" font-size="34" fill="#505050">0</text>
<rect x="1558.80" y="1791.97" width="7" height="3" fill="#222"/>
<text transform="translate(1581.50 1808.97) scale(1 1.04)" font-family="'Liberation Sans', Arial, Helvetica, sans-serif" font-size="34" fill="#505050">5</text>
<rect x="1558.80" y="1714.85" width="7" height="3" fill="#222"/>
<text transform="translate(1581.50 1731.85) scale(1 1.04)" font-family="'Liberation Sans', Arial, Helvetica, sans-serif" font-size="34" fill="#505050">10</text>
<rect x="1558.80" y="1637.72" width="7" height="3" fill="#222"/>
<text transform="translate(1581.50 1654.72) scale(1 1.04)" font-family="'Liberation Sans', Arial, Helvetica, sans-serif" font-size="34" fill="#505050">15</text>
<rect x="1558.80" y="1560.60" width="7" height="3" fill="#222"/>
<text transform="translate(1581.50 1577.60) scale(1 1.04)" font-family="'Liberation Sans', Arial, Helvetica, sans-serif" font-size="34" fill="#505050">20</text>
<rect x="1558.80" y="1483.47" width="7" height="3" fill="#222"/>
<text transform="translate(1581.50 1500.47) scale(1 1.04)" font-family="'Liberation Sans', Arial, Helvetica, sans-serif" font-size="34" fill="#505050">25</text>
<rect x="1558.80" y="1406.35" width="7" height="3" fill="#222"/>
<text transform="translate(1581.50 1423.35) scale(1 1.04)" font-family="'Liberation Sans', Arial, Helvetica, sans-serif" font-size="34" fill="#505050">30</text>
<rect x="1558.80" y="1329.22" width="7" height="3" fill="#222"/>
<text transform="translate(1581.50 1346.22) scale(1 1.04)" font-family="'Liberation Sans', Arial, Helvetica, sans-serif" font-size="34" fill="#505050">35</text>
<rect x="1558.80" y="1252.10" width="7" height="3" fill="#222"/>
<text transform="translate(1581.50 1269.10) scale(1 1.04)" font-family="'Liberation Sans', Arial, Helvetica, sans-serif" font-size="34" fill="#505050">40</text>
<rect x="1558.80" y="1174.97" width="7" height="3" fill="#222"/>
<text transform="translate(1581.50 1191.97) scale(1 1.04)" font-family="'Liberation Sans', Arial, Helvetica, sans-serif" font-size="34" fill="#505050">45</text>
<text transform="translate(1679.60 1508.00) rotate(-90) scale(1 1.035)" font-family="'Liberation Sans', Arial, Helvetica, sans-serif" font-size="70.2" text-anchor="middle" fill="#262626" stroke="#fff" stroke-width="0.5">Frequency</text>
<rect x="177.00" y="2830.64" width="253.02" height="90.36" fill="#3e26a8"/>
<rect x="429.72" y="2830.64" width="253.02" height="90.36" fill="#4332cb"/>
<rect x="682.44" y="2830.64" width="253.02" height="90.36" fill="#2b91ef"/>
<rect x="935.16" y="2830.64" width="253.02" height="90.36" fill="#81cc59"/>
<rect x="1187.88" y="2830.64" width="253.02" height="90.36" fill="#18addb"/>
<rect x="177.00" y="2740.57" width="253.02" height="90.36" fill="#3e26a8"/>
<rect x="429.72" y="2740.57" width="253.02" height="90.36" fill="#4852f4"/>
<rect x="682.44" y="2740.57" width="253.02" height="90.36" fill="#fec338"/>
<rect x="935.16" y="2740.57" width="253.02" height="90.36" fill="#f9fb15"/>
<rect x="1187.88" y="2740.57" width="253.02" height="90.36" fill="#31c69f"/>
<rect x="177.00" y="2650.51" width="253.02" height="90.36" fill="#4332cb"/>
<rect x="429.72" y="2650.51" width="253.02" height="90.36" fill="#484df0"/>
<rect x="682.44" y="2650.51" width="253.02" height="90.36" fill="#259be8"/>
<rect x="935.16" y="2650.51" width="253.02" height="90.36" fill="#9dc943"/>
<rect x="1187.88" y="2650.51" width="253.02" height="90.36" fill="#01b8ca"/>
<rect x="177.00" y="2560.45" width="253.02" height="90.36" fill="#4741e5"/>
<rect x="429.72" y="2560.45" width="253.02" height="90.36" fill="#4269fe"/>
<rect x="682.44" y="2560.45" width="253.02" height="90.36" fill="#465efb"/>
<rect x="935.16" y="2560.45" width="253.02" height="90.36" fill="#abc739"/>
<rect x="1187.88" y="2560.45" width="253.02" height="90.36" fill="#2cc4a7"/>
<rect x="177.00" y="2470.39" width="253.02" height="90.36" fill="#4741e5"/>
<rect x="429.72" y="2470.39" width="253.02" height="90.36" fill="#463cde"/>
<rect x="682.44" y="2470.39" width="253.02" height="90.36" fill="#4758f8"/>
<rect x="935.16" y="2470.39" width="253.02" height="90.36" fill="#2b91ef"/>
<rect x="1187.88" y="2470.39" width="253.02" height="90.36" fill="#4758f8"/>
<rect x="177.00" y="2380.32" width="253.02" height="90.36" fill="#4741e5"/>
<rect x="429.72" y="2380.32" width="253.02" height="90.36" fill="#4741e5"/>
<rect x="682.44" y="2380.32" width="253.02" height="90.36" fill="#4332cb"/>
<rect x="935.16" y="2380.32" width="253.02" height="90.36" fill="#327cfc"/>
<rect x="1187.88" y="2380.32" width="253.02" height="90.36" fill="#2e87f7"/>
<rect x="177.00" y="2290.26" width="253.02" height="90.36" fill="#4741e5"/>
<rect x="429.72" y="2290.26" width="253.02" height="90.36" fill="#3e26a8"/>
<rect x="682.44" y="2290.26" width="253.02" height="90.36" fill="#3e26a8"/>
<rect x="935.16" y="2290.26" width="253.02" height="90.36" fill="#2f81fa"/>
<rect x="1187.88" y="2290.26" width="253.02" height="90.36" fill="#463cde"/>
<rect x="177.00" y="2200.20" width="253.02" height="90.36" fill="#3e26a8"/>
<rect x="429.72" y="2200.20" width="253.02" height="90.36" fill="#3e26a8"/>
<rect x="682.44" y="2200.20" width="253.02" height="90.36" fill="#3e26a8"/>
<rect x="935.16" y="2200.20" width="253.02" height="90.36" fill="#3e26a8"/>
<rect x="1187.88" y="2200.20" width="253.02" height="90.36" fill="#3e26a8"/>
<rect x="177.00" y="2917.30" width="1263.60" height="3.40" fill="rgba(38,38,38,0.5)"/>
<rect x="177.00" y="2827.24" width="1263.60" height="6.80" fill="rgba(38,38,38,0.5)"/>
<rect x="177.00" y="2737.17" width="1263.60" height="6.80" fill="rgba(38,38,38,0.5)"/>
<rect x="177.00" y="2647.11" width="1263.60" height="6.80" fill="rgba(38,38,38,0.5)"/>
<rect x="177.00" y="2557.05" width="1263.60" height="6.80" fill="rgba(38,38,38,0.5)"/>
<rect x="177.00" y="2466.99" width="1263.60" height="6.80" fill="rgba(38,38,38,0.5)"/>
<rect x="177.00" y="2376.92" width="1263.60" height="6.80" fill="rgba(38,38,38,0.5)"/>
<rect x="177.00" y="2286.86" width="1263.60" height="6.80" fill="rgba(38,38,38,0.5)"/>
<rect x="177.00" y="2200.20" width="1263.60" height="3.40" fill="rgba(38,38,38,0.5)"/>
<rect x="177.00" y="2200.20" width="3.4" height="720.50" fill="rgba(38,38,38,0.5)"/>
<rect x="426.32" y="2200.20" width="6.8" height="720.50" fill="rgba(38,38,38,0.5)"/>
<rect x="679.04" y="2200.20" width="6.8" height="720.50" fill="rgba(38,38,38,0.5)"/>
<rect x="931.76" y="2200.20" width="6.8" height="720.50" fill="rgba(38,38,38,0.5)"/>
<rect x="1184.48" y="2200.20" width="6.8" height="720.50" fill="rgba(38,38,38,0.5)"/>
<rect x="1437.20" y="2200.20" width="3.4" height="720.50" fill="rgba(38,38,38,0.5)"/>
<rect x="177.00" y="2196.60" width="1263.60" height="3.60" fill="#949494"/>
<rect x="173.20" y="2200.20" width="3.8" height="720.50" fill="#949494"/>
<rect x="1440.60" y="2200.20" width="3.6" height="720.50" fill="#949494"/>
<rect x="177.00" y="2920.70" width="1263.60" height="3.6" fill="#949494"/>
<text transform="translate(809.30 2164.90) scale(1 1.04)" font-family="'Liberation Sans', Arial, Helvetica, sans-serif" font-size="68.7" font-weight="bold" text-anchor="middle" fill="#000">Joint Probability Distribution</text>
<text transform="translate(177.00 2969.00) scale(1 1.04)" font-family="'Liberation Sans', Arial, Helvetica, sans-serif" font-size="34" text-anchor="middle" fill="#505050">0</text>
<text transform="translate(303.36 2969.00) scale(1 1.04)" font-family="'Liberation Sans', Arial, Helvetica, sans-serif" font-size="34" text-anchor="middle" fill="#505050">0.1</text>
<text transform="translate(429.72 2969.00) scale(1 1.04)" font-family="'Liberation Sans', Arial, Helvetica, sans-serif" font-size="34" text-anchor="middle" fill="#505050">0.2</text>
<text transform="translate(556.08 2969.00) scale(1 1.04)" font-family="'Liberation Sans', Arial, Helvetica, sans-serif" font-size="34" text-anchor="middle" fill="#505050">0.3</text>
<text transform="translate(682.44 2969.00) scale(1 1.04)" font-family="'Liberation Sans', Arial, Helvetica, sans-serif" font-size="34" text-anchor="middle" fill="#505050">0.4</text>
<text transform="translate(808.80 2969.00) scale(1 1.04)" font-family="'Liberation Sans', Arial, Helvetica, sans-serif" font-size="34" text-anchor="middle" fill="#505050">0.5</text>
<text transform="translate(935.16 2969.00) scale(1 1.04)" font-family="'Liberation Sans', Arial, Helvetica, sans-serif" font-size="34" text-anchor="middle" fill="#505050">0.6</text>
<text transform="translate(1061.52 2969.00) scale(1 1.04)" font-family="'Liberation Sans', Arial, Helvetica, sans-serif" font-size="34" text-anchor="middle" fill="#505050">0.7</text>
<text transform="translate(1187.88 2969.00) scale(1 1.04)" font-family="'Liberation Sans', Arial, Helvetica, sans-serif" font-size="34" text-anchor="middle" fill="#505050">0.8</text>
<text transform="translate(1314.24 2969.00) scale(1 1.04)" font-family="'Liberation Sans', Arial, Helvetica, sans-serif" font-size="34" text-anchor="middle" fill="#505050">0.9</text>
<text transform="translate(1440.60 2969.00) scale(1 1.04)" font-family="'Liberation Sans', Arial, Helvetica, sans-serif" font-size="34" text-anchor="middle" fill="#505050">1</text>
<text transform="translate(160.50 2935.00) scale(1 1.04)" font-family="'Liberation Sans', Arial, Helvetica, sans-serif" font-size="34" text-anchor="end" fill="#505050">0</text>
<text transform="translate(160.50 2784.90) scale(1 1.04)" font-family="'Liberation Sans', Arial, Helvetica, sans-serif" font-size="34" text-anchor="end" fill="#505050">0.05</text>
<text transform="translate(160.50 2634.79) scale(1 1.04)" font-family="'Liberation Sans', Arial, Helvetica, sans-serif" font-size="34" text-anchor="end" fill="#505050">0.1</text>
<text transform="translate(160.50 2484.69) scale(1 1.04)" font-family="'Liberation Sans', Arial, Helvetica, sans-serif" font-size="34" text-anchor="end" fill="#505050">0.15</text>
<text transform="translate(160.50 2334.58) scale(1 1.04)" font-family="'Liberation Sans', Arial, Helvetica, sans-serif" font-size="34" text-anchor="end" fill="#505050">0.2</text>
<text transform="translate(808.80 3052.10) scale(1 1.035)" font-family="'Liberation Sans', Arial, Helvetica, sans-serif" font-size="71.0" text-anchor="middle" fill="#262626" stroke="#fff" stroke-width="0.5">Calcite</text>
<text transform="translate(808.80 3138.50) scale(1 1.035)" font-family="'Liberation Sans', Arial, Helvetica, sans-serif" font-size="70" text-anchor="middle" fill="#262626" stroke="#fff" stroke-width="0.5">(v/v)</text>
<text transform="translate(65.80 2560.45) rotate(-90) scale(1 1.035)" font-family="'Liberation Sans', Arial, Helvetica, sans-serif" font-size="70" text-anchor="middle" fill="#262626" stroke="#fff" stroke-width="0.5">Porosity (v/v)</text>
<rect x="1503.20" y="2905.85" width="62.60" height="12.15" fill="#3e26a8" shape-rendering="crispEdges"/>
<rect x="1503.20" y="2894.71" width="62.60" height="12.15" fill="#402ab4" shape-rendering="crispEdges"/>
<rect x="1503.20" y="2883.56" width="62.60" height="12.15" fill="#422ec0" shape-rendering="crispEdges"/>
<rect x="1503.20" y="2872.41" width="62.60" height="12.15" fill="#4332cb" shape-rendering="crispEdges"/>
<rect x="1503.20" y="2861.27" width="62.60" height="12.15" fill="#4537d5" shape-rendering="crispEdges"/>
<rect x="1503.20" y="2850.12" width="62.60" height="12.15" fill="#463cde" shape-rendering="crispEdges"/>
<rect x="1503.20" y="2838.97" width="62.60" height="12.15" fill="#4741e5" shape-rendering="crispEdges"/>
<rect x="1503.20" y="2827.82" width="62.60" height="12.15" fill="#4747eb" shape-rendering="crispEdges"/>
<rect x="1503.20" y="2816.68" width="62.60" height="12.15" fill="#484df0" shape-rendering="crispEdges"/>
<rect x="1503.20" y="2805.53" width="62.60" height="12.15" fill="#4852f4" shape-rendering="crispEdges"/>
<rect x="1503.20" y="2794.38" width="62.60" height="12.15" fill="#4758f8" shape-rendering="crispEdges"/>
<rect x="1503.20" y="2783.24" width="62.60" height="12.15" fill="#465efb" shape-rendering="crispEdges"/>
<rect x="1503.20" y="2772.09" width="62.60" height="12.15" fill="#4563fd" shape-rendering="crispEdges"/>
<rect x="1503.20" y="2760.94" width="62.60" height="12.15" fill="#4269fe" shape-rendering="crispEdges"/>
<rect x="1503.20" y="2749.80" width="62.60" height="12.15" fill="#3e6fff" shape-rendering="crispEdges"/>
<rect x="1503.20" y="2738.65" width="62.60" height="12.15" fill="#3875fe" shape-rendering="crispEdges"/>
<rect x="1503.20" y="2727.50" width="62.60" height="12.15" fill="#327cfc" shape-rendering="crispEdges"/>
<rect x="1503.20" y="2716.36" width="62.60" height="12.15" fill="#2f81fa" shape-rendering="crispEdges"/>
<rect x="1503.20" y="2705.21" width="62.60" height="12.15" fill="#2e87f7" shape-rendering="crispEdges"/>
<rect x="1503.20" y="2694.06" width="62.60" height="12.15" fill="#2d8cf3" shape-rendering="crispEdges"/>
<rect x="1503.20" y="2682.92" width="62.60" height="12.15" fill="#2b91ef" shape-rendering="crispEdges"/>
<rect x="1503.20" y="2671.77" width="62.60" height="12.15" fill="#2797eb" shape-rendering="crispEdges"/>
<rect x="1503.20" y="2660.62" width="62.60" height="12.15" fill="#259be8" shape-rendering="crispEdges"/>
<rect x="1503.20" y="2649.47" width="62.60" height="12.15" fill="#23a0e5" shape-rendering="crispEdges"/>
<rect x="1503.20" y="2638.33" width="62.60" height="12.15" fill="#20a5e3" shape-rendering="crispEdges"/>
<rect x="1503.20" y="2627.18" width="62.60" height="12.15" fill="#1ca9df" shape-rendering="crispEdges"/>
<rect x="1503.20" y="2616.03" width="62.60" height="12.15" fill="#18addb" shape-rendering="crispEdges"/>
<rect x="1503.20" y="2604.89" width="62.60" height="12.15" fill="#12b1d6" shape-rendering="crispEdges"/>
<rect x="1503.20" y="2593.74" width="62.60" height="12.15" fill="#08b5d0" shape-rendering="crispEdges"/>
<rect x="1503.20" y="2582.59" width="62.60" height="12.15" fill="#01b8ca" shape-rendering="crispEdges"/>
<rect x="1503.20" y="2571.45" width="62.60" height="12.15" fill="#02bac3" shape-rendering="crispEdges"/>
<rect x="1503.20" y="2560.30" width="62.60" height="12.15" fill="#0bbdbd" shape-rendering="crispEdges"/>
<rect x="1503.20" y="2549.15" width="62.60" height="12.15" fill="#19bfb6" shape-rendering="crispEdges"/>
<rect x="1503.20" y="2538.01" width="62.60" height="12.15" fill="#24c1ae" shape-rendering="crispEdges"/>
<rect x="1503.20" y="2526.86" width="62.60" height="12.15" fill="#2cc4a7" shape-rendering="crispEdges"/>
<rect x="1503.20" y="2515.71" width="62.60" height="12.15" fill="#31c69f" shape-rendering="crispEdges"/>
<rect x="1503.20" y="2504.57" width="62.60" height="12.15" fill="#37c897" shape-rendering="crispEdges"/>
<rect x="1503.20" y="2493.42" width="62.60" height="12.15" fill="#3fca8e" shape-rendering="crispEdges"/>
<rect x="1503.20" y="2482.27" width="62.60" height="12.15" fill="#4acb84" shape-rendering="crispEdges"/>
<rect x="1503.20" y="2471.12" width="62.60" height="12.15" fill="#57cc7a" shape-rendering="crispEdges"/>
<rect x="1503.20" y="2459.98" width="62.60" height="12.15" fill="#64cd6f" shape-rendering="crispEdges"/>
<rect x="1503.20" y="2448.83" width="62.60" height="12.15" fill="#72cd64" shape-rendering="crispEdges"/>
<rect x="1503.20" y="2437.68" width="62.60" height="12.15" fill="#81cc59" shape-rendering="crispEdges"/>
<rect x="1503.20" y="2426.54" width="62.60" height="12.15" fill="#8fcb4e" shape-rendering="crispEdges"/>
<rect x="1503.20" y="2415.39" width="62.60" height="12.15" fill="#9dc943" shape-rendering="crispEdges"/>
<rect x="1503.20" y="2404.24" width="62.60" height="12.15" fill="#abc739" shape-rendering="crispEdges"/>
<rect x="1503.20" y="2393.10" width="62.60" height="12.15" fill="#b9c431" shape-rendering="crispEdges"/>
<rect x="1503.20" y="2381.95" width="62.60" height="12.15" fill="#c5c22a" shape-rendering="crispEdges"/>
<rect x="1503.20" y="2370.80" width="62.60" height="12.15" fill="#d1bf27" shape-rendering="crispEdges"/>
<rect x="1503.20" y="2359.66" width="62.60" height="12.15" fill="#dcbd29" shape-rendering="crispEdges"/>
<rect x="1503.20" y="2348.51" width="62.60" height="12.15" fill="#e6bb2d" shape-rendering="crispEdges"/>
<rect x="1503.20" y="2337.36" width="62.60" height="12.15" fill="#f0ba36" shape-rendering="crispEdges"/>
<rect x="1503.20" y="2326.22" width="62.60" height="12.15" fill="#f8ba3d" shape-rendering="crispEdges"/>
<rect x="1503.20" y="2315.07" width="62.60" height="12.15" fill="#febe3c" shape-rendering="crispEdges"/>
<rect x="1503.20" y="2303.92" width="62.60" height="12.15" fill="#fec338" shape-rendering="crispEdges"/>
<rect x="1503.20" y="2292.77" width="62.60" height="12.15" fill="#fec934" shape-rendering="crispEdges"/>
<rect x="1503.20" y="2281.63" width="62.60" height="12.15" fill="#fccf30" shape-rendering="crispEdges"/>
<rect x="1503.20" y="2270.48" width="62.60" height="12.15" fill="#fad62d" shape-rendering="crispEdges"/>
<rect x="1503.20" y="2259.33" width="62.60" height="12.15" fill="#f7dc2a" shape-rendering="crispEdges"/>
<rect x="1503.20" y="2248.19" width="62.60" height="12.15" fill="#f5e327" shape-rendering="crispEdges"/>
<rect x="1503.20" y="2237.04" width="62.60" height="12.15" fill="#f5e924" shape-rendering="crispEdges"/>
<rect x="1503.20" y="2225.89" width="62.60" height="12.15" fill="#f6ef20" shape-rendering="crispEdges"/>
<rect x="1503.20" y="2214.75" width="62.60" height="12.15" fill="#f7f51b" shape-rendering="crispEdges"/>
<rect x="1503.20" y="2203.60" width="62.60" height="12.15" fill="#f9fb15" shape-rendering="crispEdges"/>
<rect x="1501.60" y="2202.00" width="65.80" height="716.60" fill="none" stroke="#222" stroke-width="3.2"/>
<text transform="translate(1581.50 2935.70) scale(1 1.04)" font-family="'Liberation Sans', Arial, Helvetica, sans-serif" font-size="34" fill="#505050">0</text>
<rect x="1558.80" y="2809.26" width="7" height="3" fill="#222"/>
<text transform="translate(1581.50 2826.26) scale(1 1.04)" font-family="'Liberation Sans', Arial, Helvetica, sans-serif" font-size="34" fill="#505050">10</text>
<rect x="1558.80" y="2699.82" width="7" height="3" fill="#222"/>
<text transform="translate(1581.50 2716.82) scale(1 1.04)" font-family="'Liberation Sans', Arial, Helvetica, sans-serif" font-size="34" fill="#505050">20</text>
<rect x="1558.80" y="2590.38" width="7" height="3" fill="#222"/>
<text transform="translate(1581.50 2607.38) scale(1 1.04)" font-family="'Liberation Sans', Arial, Helvetica, sans-serif" font-size="34" fill="#505050">30</text>
<rect x="1558.80" y="2480.94" width="7" height="3" fill="#222"/>
<text transform="translate(1581.50 2497.94) scale(1 1.04)" font-family="'Liberation Sans', Arial, Helvetica, sans-serif" font-size="34" fill="#505050">40</text>
<rect x="1558.80" y="2371.50" width="7" height="3" fill="#222"/>
<text transform="translate(1581.50 2388.50) scale(1 1.04)" font-family="'Liberation Sans', Arial, Helvetica, sans-serif" font-size="34" fill="#505050">50</text>
<rect x="1558.80" y="2262.06" width="7" height="3" fill="#222"/>
<text transform="translate(1581.50 2279.06) scale(1 1.04)" font-family="'Liberation Sans', Arial, Helvetica, sans-serif" font-size="34" fill="#505050">60</text>
<text transform="translate(1679.60 2582.00) rotate(-90) scale(1 1.035)" font-family="'Liberation Sans', Arial, Helvetica, sans-serif" font-size="70.2" text-anchor="middle" fill="#262626" stroke="#fff" stroke-width="0.5">Frequency</text>
</svg>
</body></html>
